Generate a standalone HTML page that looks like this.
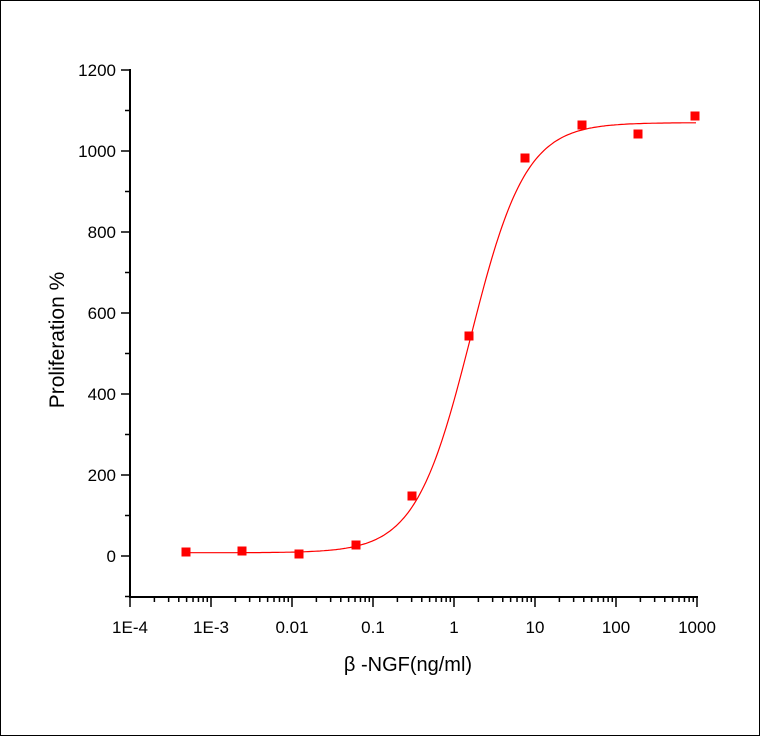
<!DOCTYPE html>
<html><head><style>
body{margin:0;background:#fff}
svg{display:block}
text{font-family:"Liberation Sans",Arial,sans-serif;fill:#000}
</style></head><body>
<svg id="s" width="760" height="736" xmlns="http://www.w3.org/2000/svg">
<rect x="0.5" y="0.5" width="759" height="735" fill="#fff" stroke="#000"/>
<g id="ax" stroke="#000" stroke-width="2" fill="none">
<line x1="130" y1="69" x2="130" y2="597"/>
<line x1="129" y1="597" x2="698" y2="597"/>
</g>
<g id="t" stroke="#000" stroke-width="1.5"></g>
<g font-size="17" text-anchor="end" id="yl"></g>
<g font-size="17" text-anchor="middle" id="xl"></g>
<text x="408" y="671" font-size="20" text-anchor="middle">β -NGF(ng/ml)</text>
<text x="0" y="0" font-size="21" text-anchor="middle" transform="translate(64,340) rotate(-90)">Proliferation %</text>
<path id="c" fill="none" stroke="#f00" stroke-width="1.2"/>
<g id="p" fill="#f00"></g>
</svg>
<script>
var ns="http://www.w3.org/2000/svg";
function el(p,n,a,t){var e=document.createElementNS(ns,n);for(var k in a)e.setAttribute(k,a[k]);if(t)e.textContent=t;document.getElementById(p).appendChild(e);}
function X(v){return 454+81*Math.log10(v);}
function Y(v){return 556-v*0.405;}
for(var v=-100;v<=1200;v+=100){var y=Y(v),maj=(v%200==0);el("t","line",{x1:maj?121:125,x2:130,y1:y,y2:y});
 if(maj)el("yl","text",{x:116,y:y+6},String(v));}
var labs=["1E-4","1E-3","0.01","0.1","1","10","100","1000"];
for(var d=-4;d<=3;d++){var x=130+81*(d+4);el("t","line",{x1:x,x2:x,y1:597,y2:607});
 el("xl","text",{x:x,y:633},labs[d+4]);
 if(d<3)for(var m=2;m<10;m++){var xm=x+81*Math.log10(m);el("t","line",{x1:xm,x2:xm,y1:597,y2:602});}}
var pts=[[186,552],[242,551],[299,554],[356,545],[412,496],[469,336],[525,158],[582,125],[638,134],[695,116]];
pts.forEach(function(p){el("p","rect",{x:p[0]-4.5,y:p[1]-4.5,width:9,height:9});});
var b=8,top_=1070,ec=1.6,h=1.28,d="";
for(var x=186;x<=697;x+=2){var c=Math.pow(10,(x-454)/81);var v=b+(top_-b)/(1+Math.pow(ec/c,h));d+=(d?"L":"M")+x+","+Y(v).toFixed(1);}
document.getElementById("c").setAttribute("d",d);
</script>
</body></html>
